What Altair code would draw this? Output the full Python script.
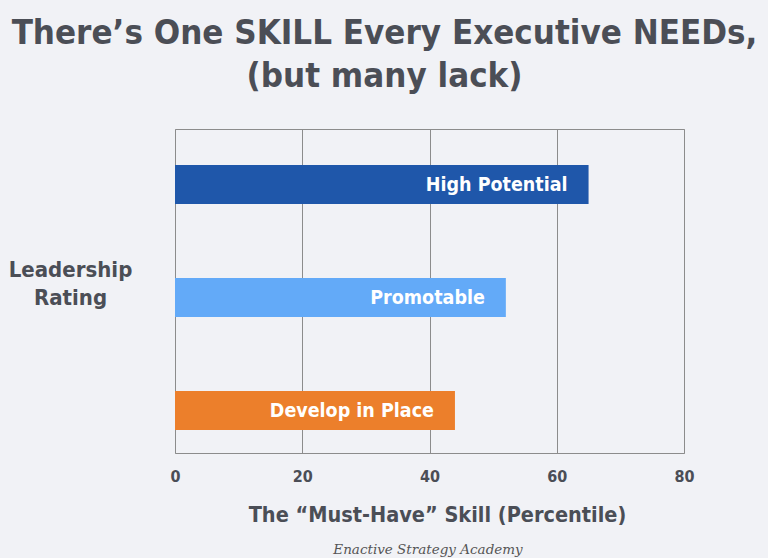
import altair as alt
import pandas as pd

categories = ["High Potential", "Promotable", "Develop in Place"]
values = [65, 52, 44]
colors = ["#1f57aa", "#63aaf8", "#ec7f2b"]
x_ticks = [0, 20, 40, 60, 80]

df = pd.DataFrame({"rating": categories, "skill": values, "color": colors})

TXT = "#4b4e56"
COND = "DejaVu Sans Condensed"

base = alt.Chart(df)

y_enc = alt.Y(
    "rating:N",
    sort=categories,
    scale=alt.Scale(paddingInner=0.655, paddingOuter=0.261, align=0.61),
    axis=alt.Axis(
        title=["Leadership", "Rating"],
        titleAngle=0,
        titleAlign="center",
        titleBaseline="alphabetic",
        titleX=-105,
        titleY=147,
        titleFont=COND,
        titleFontSize=22,
        titleFontWeight="bold",
        titleColor=TXT,
        titleLineHeight=28,
        labels=False,
        ticks=False,
        domain=False,
        grid=False,
    ),
)

x_enc = alt.X(
    "skill:Q",
    scale=alt.Scale(domain=[0, 80], nice=False),
    axis=alt.Axis(
        values=x_ticks,
        title="The \u201cMust-Have\u201d Skill (Percentile)",
        titleFont=COND,
        titleFontSize=21.5,
        titleFontWeight="bold",
        titleColor=TXT,
        titlePadding=20,
        titleX=262,
        labelFont=COND,
        labelFontSize=16,
        labelFontWeight="bold",
        labelColor=TXT,
        labelPadding=15,
        labelFlush=False,
        ticks=False,
        domain=False,
        grid=True,
        gridColor="#8c8c8c",
        gridWidth=1,
        gridOpacity=1,
    ),
)

bars = base.mark_bar().encode(
    x=x_enc,
    y=y_enc,
    color=alt.Color("color:N", scale=None),
)

labels = base.mark_text(
    align="right", baseline="middle", dx=-21, dy=1,
    font=COND, fontSize=19.5, fontWeight="bold", color="white",
).encode(
    x="skill:Q",
    y=alt.Y("rating:N", sort=categories),
    text="rating:N",
)

footer = alt.Chart(pd.DataFrame({"t": ["Enactive Strategy Academy"]})).mark_text(
    align="center", baseline="alphabetic",
    font="DejaVu Serif", fontSize=13.5, fontStyle="italic", color="#555",
).encode(
    x=alt.value(253),
    y=alt.value(425),
    text="t:N",
)

chart = alt.layer(bars, labels, footer).properties(
    width=509,
    height=324,
    background="#f1f2f6",
    padding={"left": 175, "top": 129, "right": 84, "bottom": 105},
    autosize=alt.AutoSizeParams(type="none"),
    title=alt.TitleParams(
        text=["There\u2019s One SKILL Every Executive NEEDs,", "(but many lack)"],
        font=COND,
        fontSize=34.6,
        fontWeight="bold",
        color=TXT,
        anchor="middle",
        dx=-45,
        offset=34,
        lineHeight=43,
    ),
).configure_view(
    stroke="#8c8c8c", strokeWidth=1, fill="#f1f2f6"
)

chart.save("out.html", embed_options={"renderer": "svg", "actions": False})
